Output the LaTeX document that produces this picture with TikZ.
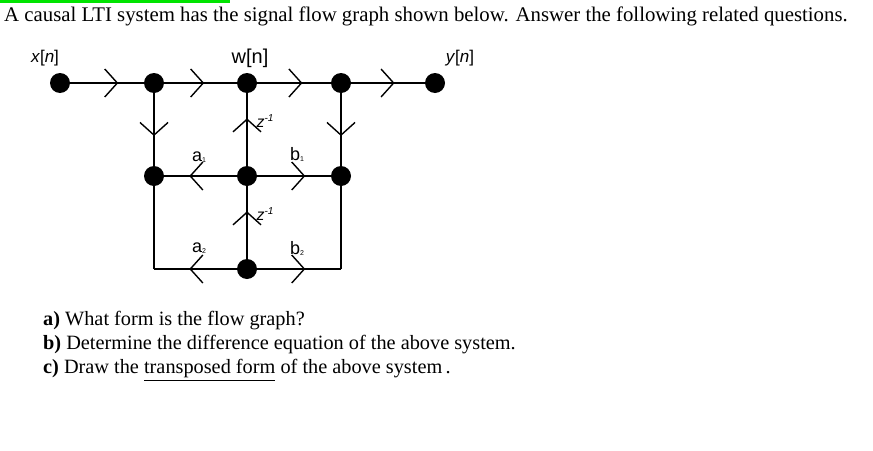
\documentclass[tikz,border=0pt]{standalone}
\usepackage{fontspec}
\setmainfont{Liberation Serif}
\newfontfamily\arial{Liberation Sans}
\usetikzlibrary{decorations.markings,arrows.meta}
\begin{document}
\begin{tikzpicture}[x=1pt,y=-1pt,
  dot/.style={circle,fill=black,minimum size=20pt,inner sep=0pt},
  edge/.style={line width=1.6pt},
  arr/.style={edge,postaction={decorate},decoration={markings,mark=at position #1 with {\arrow[line width=1.4pt]{Straight Barb[length=9pt,width=20pt,scale=1.4]}}}},
  lbl/.style={font=\arial\fontsize{17}{19}\selectfont,inner sep=0pt}]
\useasboundingbox (0,0) rectangle (873,450);
\fill[green!85!black!70!green] (0,0) rectangle (230,3);
\node[anchor=west,inner sep=0pt,font=\fontsize{20.8}{23}\selectfont] (title) at (4,16) {A causal LTI system has the signal flow graph shown below. Answer the following related questions.};
\node[dot] (x) at (60,83) {};
\node[dot] (n1) at (154,83) {};
\node[dot] (w) at (247,83) {};
\node[dot] (n3) at (341,83) {};
\node[dot] (y) at (435,83) {};
\node[dot] (m1) at (154,176) {};
\node[dot] (m2) at (247,176) {};
\node[dot] (m3) at (341,176) {};
\node[dot] (b) at (247,269) {};
\coordinate (cl) at (154,269);
\coordinate (cr) at (341,269);
\draw[arr=0.62] (x.center) -- (n1.center);
\draw[arr=0.54] (n1.center) -- (w.center);
\draw[arr=0.59] (w.center) -- (n3.center);
\draw[arr=0.57] (n3.center) -- (y.center);
\draw[arr=0.57] (n1.center) -- (m1.center);
\draw[arr=0.57] (n3.center) -- (m3.center);
\draw[arr=0.62] (m2.center) -- (w.center);
\draw[arr=0.62] (b.center) -- (m2.center);
\draw[arr=0.62] (m2.center) -- (m1.center);
\draw[arr=0.62] (m2.center) -- (m3.center);
\draw[arr=0.62] (b.center) -- (cl);
\draw[arr=0.62] (b.center) -- (cr);
\draw[edge] (cl) -- (m1.center);
\draw[edge] (cr) -- (m3.center);
\node[lbl] (lx) at (45,58) {\textit{x}[\textit{n}]};
\node[lbl,font=\arial\fontsize{20}{22}\selectfont] (lw) at (250,58) {w[n]};
\node[lbl] (ly) at (460,58) {\textit{y}[\textit{n}]};
\node[lbl,font=\arial\fontsize{16}{18}\selectfont] (z1) at (265,121) {\textit{z}\raisebox{6pt}{\fontsize{10}{11}\selectfont\textit{-1}}};
\node[lbl,font=\arial\fontsize{16}{18}\selectfont] (z2) at (265,214) {\textit{z}\raisebox{6pt}{\fontsize{10}{11}\selectfont\textit{-1}}};
\node[lbl,font=\arial\fontsize{18}{20}\selectfont] (a1) at (199,157) {a\raisebox{-1pt}{\fontsize{7}{8}\selectfont 1}};
\node[lbl,font=\arial\fontsize{18}{20}\selectfont] (b1) at (297,154) {b\raisebox{-1pt}{\fontsize{7}{8}\selectfont 1}};
\node[lbl,font=\arial\fontsize{18}{20}\selectfont] (a2) at (199,248) {a\raisebox{-1pt}{\fontsize{7}{8}\selectfont 2}};
\node[lbl,font=\arial\fontsize{18}{20}\selectfont] (b2) at (297,248) {b\raisebox{-1pt}{\fontsize{7}{8}\selectfont 2}};
\node[anchor=west,inner sep=0pt,align=left,font=\fontsize{20.3}{24}\selectfont] (q) at (43,346) {\textbf{a)} What form is the flow graph?\\\textbf{b)} Determine the difference equation of the above system.\\\textbf{c)} Draw the \underline{transposed form} of the above system\,.};
\end{tikzpicture}
\end{document}
